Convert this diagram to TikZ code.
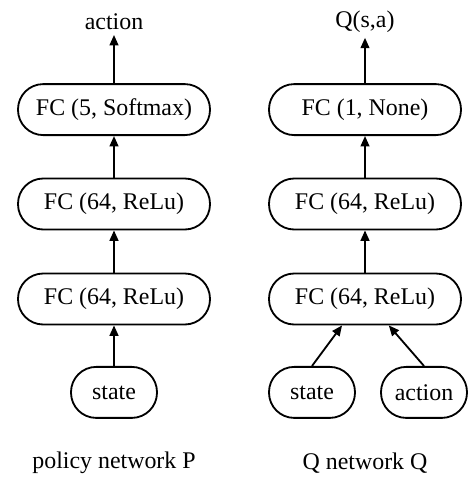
\documentclass[tikz,border=0pt]{standalone}
\usepackage{fontspec}
\setmainfont{Liberation Serif}
\usepackage{tikz}
\usetikzlibrary{calc, arrows.meta}

\tikzset{
    layerbox/.style={draw, line width=1.3pt, rounded corners=0.63cm, minimum width=4.8cm, minimum height=1.275cm, inner sep=0pt},
    inbox/.style={draw, line width=1.3pt, rounded corners=0.63cm, minimum width=2.15cm, minimum height=1.275cm, inner sep=0pt},
    flow/.style={-{Triangle[length=0.26cm, width=0.22cm]}, line width=1.3pt}
}

\begin{document}
\begin{tikzpicture}[font=\fontsize{17}{20}\selectfont]
        \useasboundingbox (0,0) rectangle (11.85,-12.15);

        % policy network
        \node (pout) at (2.85,-0.55) {action};
        \node[layerbox] (p3) at (2.85,-2.74) {FC (5, Softmax)};
        \node[layerbox] (p2) at (2.85,-5.1) {FC (64, ReLu)};
        \node[layerbox] (p1) at (2.85,-7.475) {FC (64, ReLu)};
        \node[inbox] (ps) at (2.85,-9.81) {state};
        \node (plabel) at (2.85,-11.575) {policy network P};

        \draw[flow] (ps) -- (p1);
        \draw[flow] (p1) -- (p2);
        \draw[flow] (p2) -- (p3);
        \draw[flow] (p3) -- (pout);

        % Q network
        \node (qout) at (9.125,-0.55) {Q(s,a)};
        \node[layerbox] (q3) at (9.125,-2.74) {FC (1, None)};
        \node[layerbox] (q2) at (9.125,-5.1) {FC (64, ReLu)};
        \node[layerbox] (q1) at (9.125,-7.475) {FC (64, ReLu)};
        \node[inbox] (qs) at (7.8,-9.81) {state};
        \node[inbox] (qa) at (10.6,-9.81) {action};
        \node (qlabel) at (9.125,-11.575) {Q network Q};

        \draw[flow] (qs.north) -- (q1.-131);
        \draw[flow] (qa.north) -- (q1.-48);
        \draw[flow] (q1) -- (q2);
        \draw[flow] (q2) -- (q3);
        \draw[flow] (q3) -- (qout);
    \end{tikzpicture}
\end{document}
